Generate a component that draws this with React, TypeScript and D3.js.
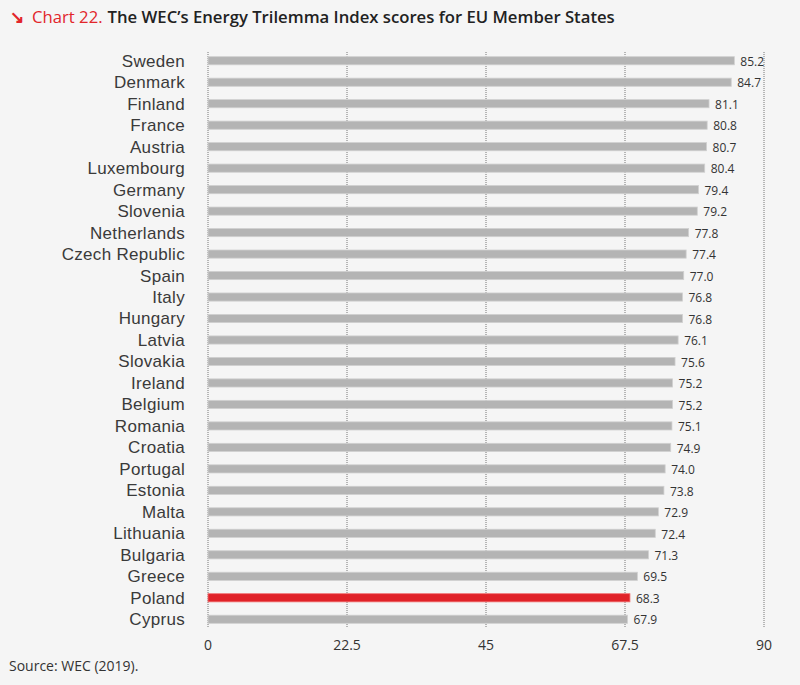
import React, { useLayoutEffect } from 'react';
import * as d3 from 'd3';

const countries = [
  'Sweden', 'Denmark', 'Finland', 'France', 'Austria', 'Luxembourg', 'Germany',
  'Slovenia', 'Netherlands', 'Czech Republic', 'Spain', 'Italy', 'Hungary', 'Latvia',
  'Slovakia', 'Ireland', 'Belgium', 'Romania', 'Croatia', 'Portugal', 'Estonia',
  'Malta', 'Lithuania', 'Bulgaria', 'Greece', 'Poland', 'Cyprus',
];
const scores = [
  85.2, 84.7, 81.1, 80.8, 80.7, 80.4, 79.4, 79.2, 77.8, 77.4, 77.0, 76.8, 76.8, 76.1,
  75.6, 75.2, 75.2, 75.1, 74.9, 74.0, 73.8, 72.9, 72.4, 71.3, 69.5, 68.3, 67.9,
];
const ticks = [0, 22.5, 45, 67.5, 90];
const highlight = 'Poland';

const W = 800;
const H = 685;
const font = '"Open Sans", "Noto Sans", sans-serif';
const labelFont = '"Liberation Sans", Arial, sans-serif';

export default function App() {
  useLayoutEffect(() => {
    document.body.style.margin = '0';
  }, []);

  const x = d3.scaleLinear().domain([0, 90]).range([208, 764]);
  const y = d3.scaleBand<string>().domain(countries).range([50, 630]).paddingInner(0.62).paddingOuter(0.31);
  const data = countries.map((c, i) => ({ c, v: scores[i] }));

  return (
    <svg width={W} height={H} style={{ display: 'block', background: '#f5f5f5' }}>
      <rect width={W} height={H} fill="#f5f5f5" />
      <text x={10} y={23} fontFamily={font} fontSize={16.7} fill="#222">
        <tspan fill="#e2252b" fontWeight={700}>↘</tspan>
        <tspan dx={8} fill="#e2252b">Chart 22.</tspan>
        <tspan dx={5} fontWeight={600}>The WEC’s Energy Trilemma Index scores for EU Member States</tspan>
      </text>

      {ticks.map(t => (
        <g key={t}>
          <line x1={x(t)} x2={x(t)} y1={52} y2={628} stroke="#777" strokeWidth={1} strokeDasharray="1,1" />
          <text x={x(t)} y={650} textAnchor="middle" fontFamily={font} fontSize={14} fill="#333">{t}</text>
        </g>
      ))}

      {data.map(d => (
        <g key={d.c}>
          <rect
            x={x(0)}
            y={y(d.c)!}
            width={x(d.v) - x(0)}
            height={y.bandwidth()}
            fill={d.c === highlight ? '#e02228' : '#b4b4b4'}
            stroke={d.c === highlight ? '#f07070' : '#d0d0d0'}
            strokeWidth={0.8}
          />
          <text x={185} y={y(d.c)! + y.bandwidth() / 2} dy="0.35em" textAnchor="end"
            fontFamily={labelFont} fontSize={17} letterSpacing={0.3} fill="#3a3a3a">{d.c}</text>
          <text x={x(d.v) + 6} y={y(d.c)! + y.bandwidth() / 2 + 1} dy="0.35em"
            fontFamily={font} fontSize={12} fill="#333">{d.v.toFixed(1)}</text>
        </g>
      ))}

      <text x={9} y={671} fontFamily={font} fontSize={14} fill="#333">Source: WEC (2019).</text>
    </svg>
  );
}
